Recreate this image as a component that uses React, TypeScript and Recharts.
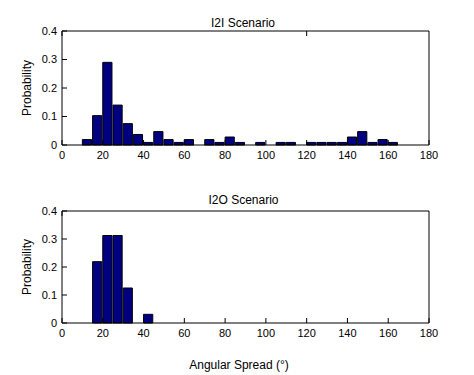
import React from 'react';
import { BarChart, Bar, XAxis, YAxis } from 'recharts';

const binCenters = [12.5, 17.5, 22.5, 27.5, 32.5, 37.5, 42.5, 47.5, 52.5, 57.5, 62.5, 67.5, 72.5, 77.5, 82.5, 87.5, 92.5, 97.5, 102.5, 107.5, 112.5, 117.5, 122.5, 127.5, 132.5, 137.5, 142.5, 147.5, 152.5, 157.5, 162.5];
const i2iProb = [0.019, 0.103, 0.29, 0.14, 0.075, 0.037, 0.009, 0.047, 0.019, 0.009, 0.019, 0, 0.019, 0.009, 0.028, 0.009, 0, 0.009, 0, 0.009, 0.009, 0, 0.009, 0.009, 0.009, 0.009, 0.028, 0.047, 0.009, 0.019, 0.009];
const i2oCenters = [17.5, 22.5, 27.5, 32.5, 37.5, 42.5];
const i2oProb = [0.219, 0.3125, 0.3125, 0.125, 0, 0.031];
const xTicks = [0, 20, 40, 60, 80, 100, 120, 140, 160, 180];
const yTicks = [0, 0.1, 0.2, 0.3, 0.4];
const titles = ['I2I Scenario', 'I2O Scenario'];
const yLabel = 'Probability';
const xLabel = 'Angular Spread (°)';

const i2iData = binCenters.map((x, i) => ({ x, p: i2iProb[i] }));
const i2oData = i2oCenters.map((x, i) => ({ x, p: i2oProb[i] }));

const FONT = '"Liberation Sans", Arial, sans-serif';
const W = 474;
const LEFT = 62;
const RIGHT = 45;
const binWidthPx = ((W - LEFT - RIGHT) * 5) / 180;

const tickStyle = { fontSize: 11, fill: '#000', fontFamily: FONT };
const noTick = () => <g />;

function Hist({ data, height, bottom }: { data: any[]; height: number; bottom: number }) {
  return (
    <BarChart width={W} height={height} data={data} margin={{ top: 30, right: RIGHT - 1, bottom: 0, left: 0 }}>
      <XAxis
        dataKey="x"
        type="number"
        domain={[0, 180]}
        ticks={xTicks}
        interval={0}
        height={bottom}
        tickSize={-5}
        tickMargin={11}
        stroke="#000"
        tick={tickStyle}
      />
      <XAxis
        xAxisId="top"
        orientation="top"
        type="number"
        domain={[0, 180]}
        ticks={xTicks}
        interval={0}
        height={1}
        tickSize={-5}
        tick={noTick}
        stroke="#000"
      />
      <YAxis
        type="number"
        domain={[0, 0.4]}
        ticks={yTicks}
        interval={0}
        width={LEFT}
        tickSize={-5}
        tickMargin={10}
        stroke="#000"
        tick={tickStyle}
      />
      <YAxis
        yAxisId="r"
        orientation="right"
        type="number"
        domain={[0, 0.4]}
        ticks={yTicks}
        interval={0}
        width={1}
        tickSize={-5}
        tick={noTick}
        stroke="#000"
      />
      <Bar dataKey="p" fill="#000080" stroke="#000" strokeWidth={1} barSize={binWidthPx - 1} isAnimationActive={false} />
    </BarChart>
  );
}

export default function App() {
  return (
    <div style={{ position: 'absolute', left: 0, top: 0, width: W, height: 375, background: '#fff' }}>
      <div style={{ position: 'absolute', left: 0, top: 0 }}>
        <Hist data={i2iData} height={170} bottom={25} />
      </div>
      <div style={{ position: 'absolute', left: 0, top: 180 }}>
        <Hist data={i2oData} height={170} bottom={27} />
      </div>
      <svg width={W} height={375} style={{ position: 'absolute', left: 0, top: 0, pointerEvents: 'none' }}>
        <g fontFamily={FONT} fontSize={12} fill="#000">
          <text x={243} y={26.5} textAnchor="middle">{titles[0]}</text>
          <text x={243.5} y={203.5} textAnchor="middle">{titles[1]}</text>
          <text x={239} y={369} textAnchor="middle">{xLabel}</text>
          <text x={31} y={88} textAnchor="middle" transform="rotate(-90 31 88)">{yLabel}</text>
          <text x={31} y={267} textAnchor="middle" transform="rotate(-90 31 267)">{yLabel}</text>
        </g>
      </svg>
    </div>
  );
}
